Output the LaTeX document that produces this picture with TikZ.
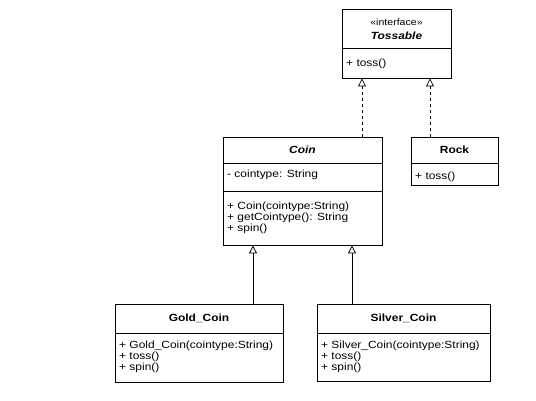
\documentclass[tikz,border=0pt]{standalone}
\usepackage{fontspec}
\setmainfont{Liberation Sans}[FakeStretch=1.15]
\usetikzlibrary{arrows.meta}
\tikzset{
  umlbox/.style={draw, line width=0.8pt, fill=white, inner sep=0pt},
  divider/.style={line width=0.8pt},
  txt/.style={anchor=base west, inner sep=0pt, font=\fontsize{10.4}{11}\selectfont},
  ttl/.style={anchor=base, inner sep=0pt, font=\fontsize{10.4}{11}\selectfont\bfseries},
  ttli/.style={anchor=base, inner sep=0pt, font=\fontsize{10.4}{11}\selectfont\bfseries\itshape},
  realize/.style={dashed, line width=0.7pt, -{Triangle[open, length=8pt, width=8pt]}},
  inherit/.style={line width=0.8pt, -{Triangle[open, length=8pt, width=8pt]}},
}
\begin{document}
\begin{tikzpicture}[x=1pt, y=-1pt]
\useasboundingbox[fill=white] (0,0) rectangle (536,401);
% boxes
\node[umlbox, minimum width=109pt, minimum height=69pt] (toss) at (396.5,43.5) {};
\node[umlbox, minimum width=87pt, minimum height=48pt] (rock) at (454.5,161) {};
\node[umlbox, minimum width=159pt, minimum height=108pt] (coin) at (302.5,191) {};
\node[umlbox, minimum width=168pt, minimum height=78pt] (gold) at (199,343) {};
\node[umlbox, minimum width=173pt, minimum height=77pt] (silver) at (403.5,342.5) {};
% dividers
\draw[divider] (toss.west |- 0,48) -- (toss.east |- 0,48);
\draw[divider] (rock.west |- 0,163) -- (rock.east |- 0,163);
\draw[divider] (coin.west |- 0,163) -- (coin.east |- 0,163);
\draw[divider] (coin.west |- 0,191) -- (coin.east |- 0,191);
\draw[divider] (gold.west |- 0,333) -- (gold.east |- 0,333);
\draw[divider] (silver.west |- 0,333) -- (silver.east |- 0,333);
% texts
\node[anchor=base, inner sep=0pt, font=\fontsize{9.2}{11}\selectfont] (tossst) at (396.5,26) {«interface»};
\node[ttli] (tossname) at (396.5,39.5) {Tossable};
\node[txt] (tossm) at (346,67) {+ toss()};
\node[ttl] (rockname) at (454.5,154) {Rock};
\node[txt] (rockm) at (415,180) {+ toss()};
\node[ttli] (coinname) at (302.5,154) {Coin};
\node[txt] (coina) at (227,178) {- cointype: String};
\node[txt] (coinm1) at (227,210) {+ Coin(cointype:String)};
\node[txt] (coinm2) at (227,221) {+ getCointype(): String};
\node[txt] (coinm3) at (227,232) {+ spin()};
\node[ttl] (goldname) at (199,321) {Gold\_Coin};
\node[txt] (goldm1) at (119,348) {+ Gold\_Coin(cointype:String)};
\node[txt] (goldm2) at (119,359) {+ toss()};
\node[txt] (goldm3) at (119,370) {+ spin()};
\node[ttl] (silvername) at (403.5,321) {Silver\_Coin};
\node[txt] (silverm1) at (321,348) {+ Silver\_Coin(cointype:String)};
\node[txt] (silverm2) at (321,359) {+ toss()};
\node[txt] (silverm3) at (321,370) {+ spin()};
% connectors
\draw[realize] (362,0 |- coin.north) -- (362,0 |- toss.south);
\draw[realize] (430,0 |- rock.north) -- (430,0 |- toss.south);
\draw[inherit] (253,0 |- gold.north) -- (253,0 |- coin.south);
\draw[inherit] (352,0 |- silver.north) -- (352,0 |- coin.south);
\end{tikzpicture}
\end{document}
